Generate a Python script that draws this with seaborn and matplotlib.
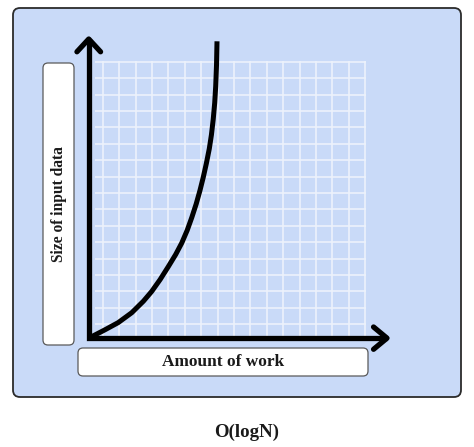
import numpy as np
import pandas as pd
import seaborn as sns
import matplotlib
matplotlib.use("Agg")
import matplotlib.pyplot as plt
from matplotlib.patches import FancyBboxPatch

# ---- data (grid-cell units) ----
work = [0.15, 0.60, 1.14, 1.95, 2.77, 3.48, 3.99, 4.50, 5.00, 5.45, 5.82, 6.15,
        6.43, 6.70, 6.93, 7.13, 7.32, 7.50, 7.63, 7.74, 7.83, 7.89, 7.94, 7.97]
size = [0.15, 0.38, 0.66, 1.10, 1.70, 2.40, 3.00, 3.72, 4.51, 5.25, 5.95, 6.72,
        7.50, 8.33, 9.15, 9.95, 10.80, 11.70, 12.55, 13.50, 14.50, 15.50, 16.80, 18.25]
x_label = "Amount of work"
y_label = "Size of input data"
title = "O(logN)"
grid_ticks = list(range(1, 18))

sns.set_theme(style="white")
plt.rcParams['font.family'] = ['Liberation Serif', 'DejaVu Serif']

W, H = 474, 447
fig = plt.figure(figsize=(W / 100, H / 100), dpi=100)
fig.patch.set_facecolor("white")

# background decoration axes in pixel coordinates
bg = fig.add_axes([0, 0, 1, 1])
bg.set_xlim(0, W)
bg.set_ylim(H, 0)
bg.axis("off")

blue = "#c9daf8"
bg.add_patch(FancyBboxPatch((13, 8), 448, 389, boxstyle="round,pad=0,rounding_size=7",
                            facecolor=blue, edgecolor="#2b2b2b", linewidth=1.3))
bg.add_patch(FancyBboxPatch((43, 63), 31, 282, boxstyle="round,pad=0,rounding_size=5",
                            facecolor="white", edgecolor="#5a5a5a", linewidth=0.9))
bg.add_patch(FancyBboxPatch((78, 348), 290, 28, boxstyle="round,pad=0,rounding_size=5",
                            facecolor="white", edgecolor="#5a5a5a", linewidth=0.9))
bg.text(59, 204, y_label, rotation=90, ha="center", va="center",
        fontsize=11.2, fontweight="bold", color="#1a1a1a")
bg.text(223, 362, x_label, ha="center", va="center",
        fontsize=12.4, fontweight="bold", color="#1a1a1a")
bg.text(247, 432, title, ha="center", va="center",
        fontsize=13.6, fontweight="bold", color="#1a1a1a")

# main axes over the grid region
unit = 16.4
ox, oy = 86.3, 340.6
gx0, gx1, gy0, gy1 = 95, 366, 61, 338
ax = fig.add_axes([gx0 / W, 1 - gy1 / H, (gx1 - gx0) / W, (gy1 - gy0) / H])
ax.set_facecolor("none")
ax.set_xlim((gx0 - ox) / unit, (gx1 - ox) / unit)
ax.set_ylim((oy - gy1) / unit, (oy - gy0) / unit)
ax.set_xticks(grid_ticks)
ax.set_yticks(grid_ticks)
ax.tick_params(length=0, labelbottom=False, labelleft=False)
for s in ax.spines.values():
    s.set_visible(False)
ax.grid(True, color="#edf2fc", linewidth=1.2)
ax.set_axisbelow(True)

df = pd.DataFrame({"work": work, "size": size})
sns.lineplot(data=df, x="work", y="size", sort=False, estimator=None, ax=ax,
             color="black", linewidth=3.6, solid_capstyle="butt",
             solid_joinstyle="round", zorder=3)
for ln in ax.lines:
    ln.set_clip_on(False)
ax.set_xlabel("")
ax.set_ylabel("")

a0 = 0.15
ytip = (oy - 39) / unit
xtip = (387 - ox) / unit
kw = dict(color="black", linewidth=3.8, clip_on=False, zorder=4,
          solid_capstyle="round", solid_joinstyle="round")
ax.plot([a0, a0, xtip], [ytip, a0, a0], **{**kw, "solid_joinstyle": "miter", "solid_capstyle": "butt"})
ax.plot([a0 - 0.72, a0, a0 + 0.72], [ytip - 0.78, ytip, ytip - 0.78], **kw)
ax.plot([xtip - 0.82, xtip, xtip - 0.82], [a0 + 0.68, a0, a0 - 0.68], **kw)

fig.savefig("out.png", dpi=100)
